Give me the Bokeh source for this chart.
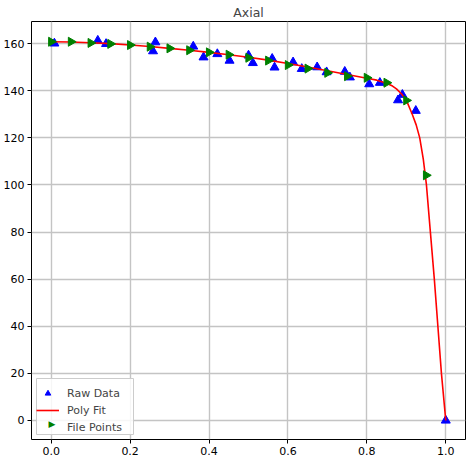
import numpy as np
from bokeh.plotting import figure
from bokeh.models import Range1d, FixedTicker, Legend, LegendItem, Label, BoxAnnotation
from bokeh.embed import file_html
from bokeh.resources import INLINE

# Raw data (blue triangles)
raw_x = [0.008, 0.118, 0.139, 0.258, 0.264, 0.360, 0.386, 0.421, 0.452, 0.500,
         0.511, 0.560, 0.566, 0.613, 0.635, 0.674, 0.698, 0.744, 0.757, 0.806,
         0.833, 0.879, 0.890, 0.924, 1.0]
raw_y = [160.1, 161.3, 159.9, 156.8, 160.6, 158.8, 154.2, 155.6, 152.8, 155.0,
         151.8, 153.6, 149.9, 152.1, 149.3, 150.0, 147.9, 148.1, 145.7, 142.8,
         143.4, 136.0, 138.3, 131.5, 0.0]

# Poly fit curve (red line)
fit_x = [0.0, 0.05, 0.1, 0.15, 0.2, 0.25, 0.3, 0.35, 0.4, 0.45, 0.5, 0.55, 0.6,
         0.65, 0.7, 0.75, 0.8, 0.825, 0.85, 0.865, 0.875, 0.888, 0.9, 0.915,
         0.925, 0.934, 0.943, 0.951, 0.961, 0.971, 0.980, 0.989, 1.0]
fit_y = [160.8, 160.7, 160.4, 160.0, 159.4, 158.8, 158.0, 157.2, 156.3, 155.3,
         154.2, 153.0, 151.6, 150.1, 148.5, 146.9, 145.3, 144.5, 143.2, 142.0,
         140.8, 138.6, 136.0, 130.0, 125.5, 120.0, 111.0, 100.0, 80.0, 60.0,
         40.0, 20.0, 0.0]

# File points (green right triangles)
file_x = [0.0, 0.05, 0.1, 0.15, 0.2, 0.25, 0.3, 0.35, 0.4, 0.45, 0.5, 0.55,
          0.6, 0.65, 0.7, 0.75, 0.8, 0.85, 0.9, 0.95]
file_y = [160.8, 160.8, 160.3, 159.9, 159.4, 158.7, 158.0, 157.2, 156.3, 155.3,
          154.0, 152.8, 150.9, 149.4, 147.6, 146.2, 145.5, 143.4, 135.9, 104.1]

x_ticks = [0.0, 0.2, 0.4, 0.6, 0.8, 1.0]
y_ticks = [0, 20, 40, 60, 80, 100, 120, 140, 160]
series_names = ["Raw Data", "Poly Fit", "File Points"]

FONT = "DejaVu Sans"

p = figure(width=474, height=464, output_backend="svg", toolbar_location=None,
           x_range=Range1d(-0.05, 1.05), y_range=Range1d(-8.07, 169.4),
           min_border_left=31, min_border_right=9, min_border_top=21,
           min_border_bottom=25, title="Axial")

p.title.align = "center"
p.title.text_font = FONT
p.title.text_font_size = "12.5px"
p.title.text_font_style = "normal"
p.title.standoff = 3

p.outline_line_color = "black"
p.outline_line_width = 1

for ax in (p.xaxis, p.yaxis):
    ax.axis_line_color = None
    ax.major_tick_out = 4
    ax.major_tick_in = 0
    ax.minor_tick_out = 0
    ax.minor_tick_in = 0
    ax.major_label_text_font = FONT
    ax.major_label_text_font_size = "11px"
    ax.major_label_text_color = "black"
    ax.major_label_standoff = 3
    ax.major_tick_line_color = "black"
    ax.axis_label_standoff = 0

p.xaxis.ticker = FixedTicker(ticks=x_ticks)
p.yaxis.ticker = FixedTicker(ticks=y_ticks)
p.xaxis.major_label_overrides = {t: f"{t:.1f}" for t in x_ticks}

p.xgrid.ticker = FixedTicker(ticks=x_ticks)
p.ygrid.ticker = FixedTicker(ticks=y_ticks)
for g in (p.xgrid, p.ygrid):
    g.grid_line_color = "#c4c4c4"
    g.grid_line_width = 1.4

r_raw = p.scatter(raw_x, raw_y, marker="triangle", size=9, color="#0000ff")
r_fit = p.line(fit_x, fit_y, line_color="#ff0000", line_width=1.6)
r_file = p.scatter(file_x, file_y, marker="triangle", size=9, color="#008000",
                   angle=-np.pi / 2)
# legend stand-in for the rotated marker (legends always draw markers unrotated)
r_file_leg = p.scatter([], [], marker="triangle", size=9, fill_alpha=0, line_alpha=0)

PAD, GW, GH, SP = 4, 23, 14, 3
LX, LY, LW = 5, 5, 97
LH = 2 * PAD + 3 * GH + 2 * SP

# legend box drawn separately so the hand-drawn marker can sit on top of it
p.add_layout(BoxAnnotation(left=LX, right=LX + LW, bottom=LY, top=LY + LH,
                           left_units="screen", right_units="screen",
                           bottom_units="screen", top_units="screen",
                           fill_color="white", fill_alpha=0.85,
                           line_color="#cccccc", line_width=1, line_alpha=1))

legend = Legend(items=[LegendItem(label=series_names[0], renderers=[r_raw]),
                       LegendItem(label=series_names[1], renderers=[r_fit]),
                       LegendItem(label=series_names[2], renderers=[r_file_leg])],
                location=(LX, LY))
legend.label_text_font = FONT
legend.label_text_font_size = "11px"
legend.border_line_color = None
legend.background_fill_alpha = 0
legend.glyph_height = GH
legend.glyph_width = GW
legend.label_height = GH
legend.label_standoff = 8
legend.spacing = SP
legend.padding = PAD
legend.margin = 0
p.add_layout(legend)

p.add_layout(Label(x=LX + PAD + GW / 2, y=LY + PAD + GH / 2, x_units="screen",
                   y_units="screen", text="\u25B6", text_color="#008000",
                   text_font=FONT, text_font_size="9px", text_align="center",
                   text_baseline="middle", level="overlay"))

open("out.html", "w").write(file_html(p, INLINE))
